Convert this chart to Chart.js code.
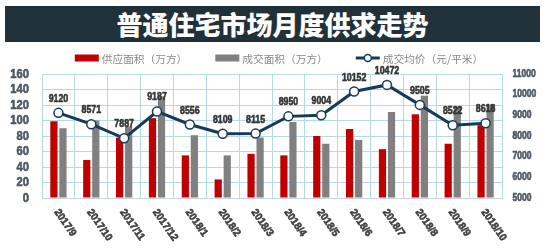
<!DOCTYPE html>
<html lang="zh">
<head>
<meta charset="UTF-8">
<title>普通住宅市场月度供求走势</title>
<script src="https://cdn.jsdelivr.net/npm/chart.js@4/dist/chart.umd.min.js"></script>
<style>
    html, body { margin: 0; padding: 0; background: #fff; }
    .wrap { position: relative; width: 548px; height: 250px; overflow: hidden; }
    .title {
        position: absolute; left: 5px; top: 6px; width: 535px; height: 36px;
        background: #20313a; color: #fff; text-align: center;
        font: 900 26px "Noto Sans CJK SC", sans-serif; line-height: 36px;
    }
    .box { position: absolute; left: 0; top: 44px; width: 548px; height: 206px; }
</style>
</head>
<body>
<div class="wrap">
    <div class="title">普通住宅市场月度供求走势</div>
    <div class="box"><canvas id="myChart"></canvas></div>
</div>

<script>
    // months on the x axis
    var months = ['2017/9', '2017/10', '2017/11', '2017/12', '2018/1', '2018/2', '2018/3',
                  '2018/4', '2018/5', '2018/6', '2018/7', '2018/8', '2018/9', '2018/10'];
    // 供应面积 (万方)
    var supplyArea = [99, 49, 78, 103, 55, 24, 57, 55, 80, 89, 63, 108, 70, 94];
    // 成交面积 (万方)
    var dealArea = [90, 100, 92, 131, 81, 55, 78, 98, 70, 75, 111, 132, 118, 121];
    // 成交均价 (元/平米)
    var avgPrice = [9120, 8571, 7887, 9187, 8556, 8109, 8115, 8950, 9004, 10152, 10472, 9505, 8522, 8618];

    var numFont = '"Liberation Sans", Arial, sans-serif';
    var gridColor = '#b3dbe6';
    var navy = '#173a5b';

    // narrow heavy numbers: squeeze the text sideways and thicken it a bit
    function squeezeText(ctx, text, x, y, sx, align, rot) {
        ctx.save();
        ctx.translate(x, y);
        if (rot) ctx.rotate(rot);
        ctx.scale(sx, 1);
        ctx.textAlign = align;
        ctx.strokeStyle = ctx.fillStyle;
        ctx.lineWidth = 0.6;
        ctx.lineJoin = 'round';
        ctx.strokeText(text, 0, 0);
        ctx.fillText(text, 0, 0);
        ctx.restore();
    }

    // legend drawn on top of the chart, items read from the datasets
    var legendPlugin = {
        id: 'topLegend',
        afterDraw: function (chart) {
            var ctx = chart.ctx;
            var ds = chart.data.datasets;
            var gap = 28, box = 24;
            ctx.save();
            ctx.font = '10.7px "Noto Sans CJK SC", sans-serif';
            var widths = ds.map(function (d) { return box + 3 + ctx.measureText(d.label).width; });
            var total = widths.reduce(function (a, b) { return a + b; }, 0) + gap * (ds.length - 1);
            var x = 279 - total / 2, y = 14;
            ds.forEach(function (d, i) {
                if (d.type === 'line') {
                    ctx.strokeStyle = d.borderColor;
                    ctx.lineWidth = 3;
                    ctx.beginPath(); ctx.moveTo(x, y); ctx.lineTo(x + box, y); ctx.stroke();
                    ctx.beginPath(); ctx.arc(x + box / 2, y, 3.5, 0, Math.PI * 2);
                    ctx.fillStyle = '#fff'; ctx.fill();
                    ctx.lineWidth = 1.5; ctx.stroke();
                } else {
                    ctx.fillStyle = d.backgroundColor;
                    ctx.fillRect(x, y - 3.5, box, 7);
                }
                ctx.fillStyle = '#8a8a8a';
                ctx.textBaseline = 'middle';
                ctx.textAlign = 'left';
                ctx.fillText(d.label, x + box + 3, y + 1);
                x += widths[i] + gap;
            });
            ctx.restore();
        }
    };

    // axis tick labels, price labels and slanted month labels
    var labelPlugin = {
        id: 'labels',
        afterDatasetsDraw: function (chart) {
            var ctx = chart.ctx;
            var area = chart.chartArea;
            ctx.save();
            ctx.textBaseline = 'middle';

            var y = chart.scales.y;
            ctx.font = 'bold 13px ' + numFont;
            ctx.fillStyle = '#4d5663';
            y.ticks.forEach(function (t) {
                squeezeText(ctx, String(t.value), area.left - 13, y.getPixelForValue(t.value), 0.86, 'right');
            });

            var y1 = chart.scales.y1;
            ctx.font = 'bold 10px ' + numFont;
            y1.ticks.forEach(function (t) {
                squeezeText(ctx, String(t.value), area.right + 10.5, y1.getPixelForValue(t.value), 0.85, 'left');
            });

            var meta = chart.getDatasetMeta(2);
            ctx.font = 'bold 11px ' + numFont;
            ctx.fillStyle = '#333333';
            meta.data.forEach(function (pt, i) {
                squeezeText(ctx, String(avgPrice[i]), pt.x, pt.y - 14, 0.8, 'center');
            });

            var xs = chart.scales.x;
            ctx.font = 'bold 10.5px ' + numFont;
            ctx.fillStyle = '#404040';
            ctx.textBaseline = 'alphabetic';
            months.forEach(function (m, i) {
                var px = xs.getPixelForTick(i);
                squeezeText(ctx, m, px - 4.5, area.bottom + 14, 0.95, 'left', 55 * Math.PI / 180);
            });
            ctx.restore();
        }
    };

    function createChart() {
        var ctx = document.getElementById('myChart').getContext('2d');
        new Chart(ctx, {
            data: {
                labels: months,
                datasets: [{
                    type: 'bar',
                    label: '供应面积（万方）',
                    data: supplyArea,
                    backgroundColor: '#c00000',
                    yAxisID: 'y',
                    order: 1
                }, {
                    type: 'bar',
                    label: '成交面积（万方）',
                    data: dealArea,
                    backgroundColor: '#808080',
                    yAxisID: 'y',
                    order: 1
                }, {
                    type: 'line',
                    label: '成交均价（元/平米）',
                    data: avgPrice,
                    borderColor: navy,
                    borderWidth: 3,
                    pointRadius: 4.5,
                    pointBackgroundColor: '#fff',
                    pointBorderColor: navy,
                    pointBorderWidth: 1.5,
                    yAxisID: 'y1',
                    order: 0
                }]
            },
            options: {
                responsive: true,
                maintainAspectRatio: false,
                animation: false,
                layout: { padding: { top: 30, left: 0, right: 0, bottom: 0 } },
                datasets: { bar: { categoryPercentage: 0.55, barPercentage: 0.8 } },
                plugins: {
                    legend: { display: false },
                    tooltip: { enabled: false }
                },
                scales: {
                    x: {
                        ticks: { display: false },
                        grid: { color: gridColor, drawTicks: false },
                        border: { color: '#c8d6dc' },
                        afterFit: function (s) { s.height = 52; }
                    },
                    y: {
                        position: 'left',
                        min: 0, max: 160,
                        ticks: { display: false, stepSize: 20 },
                        grid: { color: gridColor, drawTicks: false },
                        border: { color: gridColor },
                        afterFit: function (s) { s.width = 42; }
                    },
                    y1: {
                        position: 'right',
                        min: 5000, max: 11000,
                        ticks: { display: false, stepSize: 1000 },
                        grid: { display: false, drawTicks: false },
                        border: { color: gridColor },
                        afterFit: function (s) { s.width = 46; }
                    }
                }
            },
            plugins: [legendPlugin, labelPlugin]
        });
    }

    createChart();
</script>
</body>
</html>
